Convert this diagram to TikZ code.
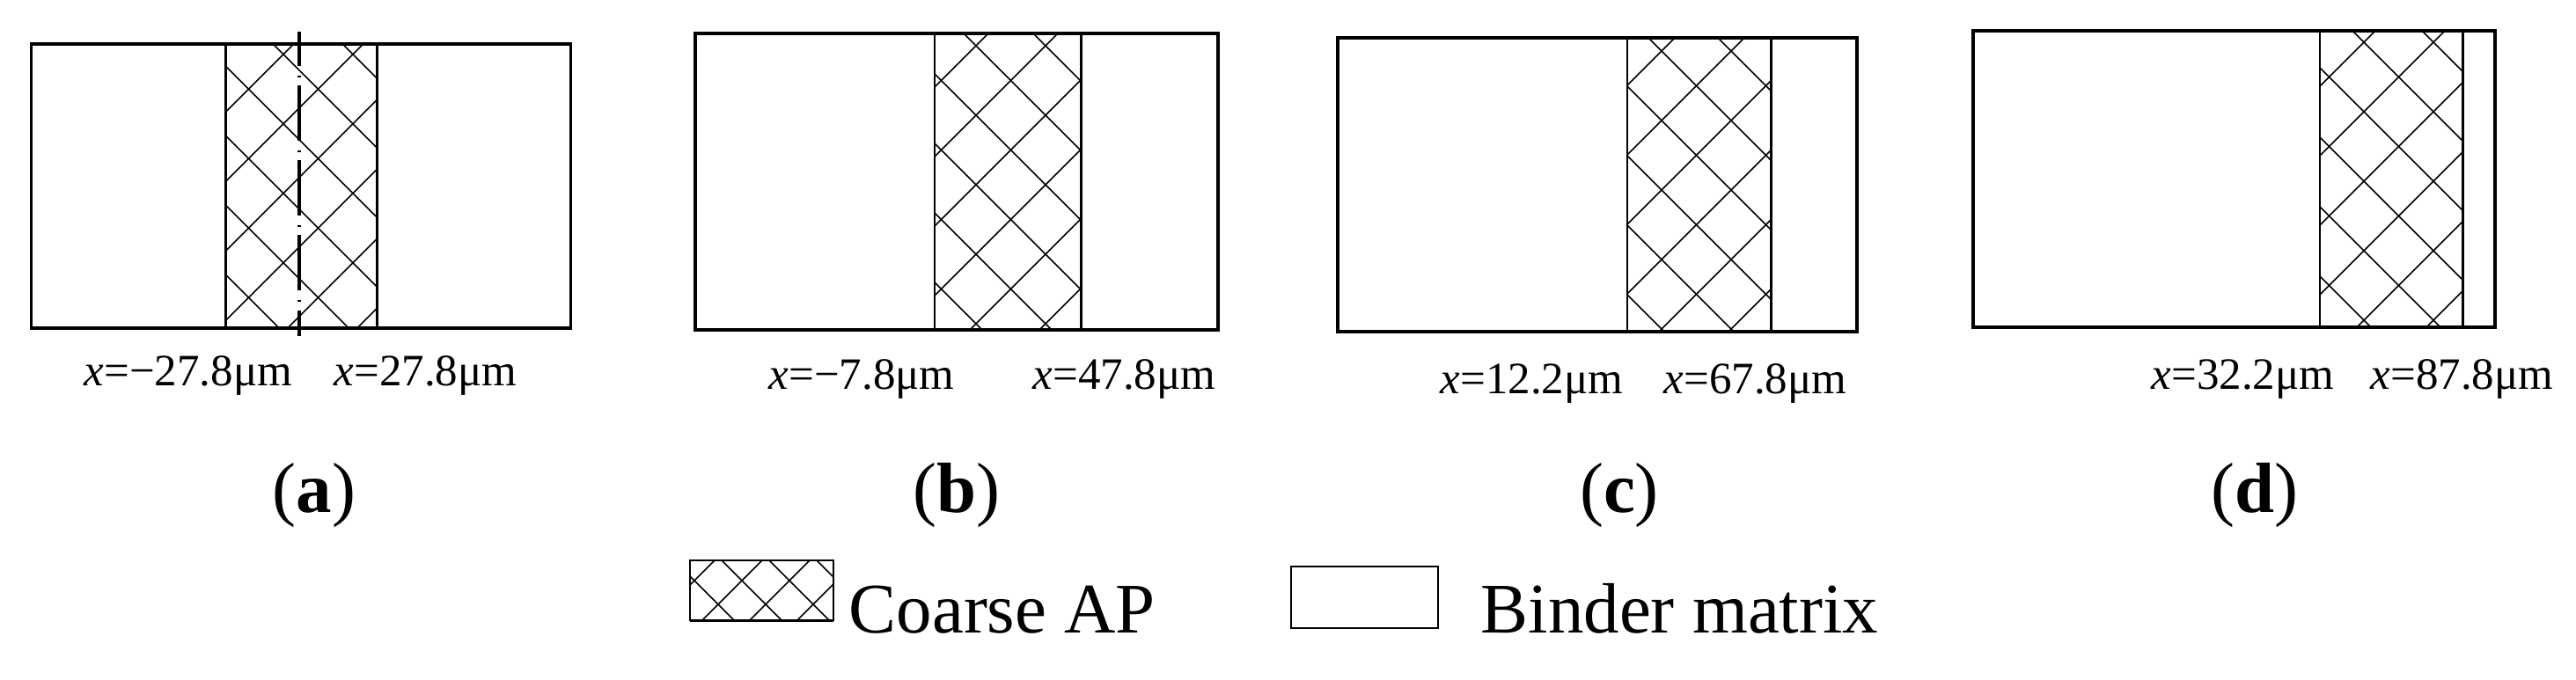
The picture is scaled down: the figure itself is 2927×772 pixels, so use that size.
\documentclass[tikz,border=0pt]{standalone}
\usepackage{fontspec}
\setmainfont{Liberation Serif}
\newcommand{\hatchband}[7]{%
  \begin{scope}
    \clip (#1,#3) rectangle (#2,#4);
    \foreach \k in {-12,...,12} {
      \draw[hatch] ({#5+#7*\k-500},{#6-500}) -- ++(1000,1000);
      \draw[hatch] ({#5+#7*\k+500},{#6-500}) -- ++(-1000,1000);
    }
  \end{scope}}
\begin{document}
\begin{tikzpicture}[x=0.01cm,y=-0.01cm,
    frame/.style={line width=0.94pt},
    band/.style={line width=0.8pt},
    hatch/.style={line width=0.45pt},
    axisline/.style={line width=0.9pt,dash pattern=on 17.9pt off 3.1pt on 0.6pt off 2.6pt,dash phase=6.8pt},
    xlabel/.style={anchor=base west,inner sep=0pt,font=\fontsize{14.5}{17}\selectfont},
    tag/.style={anchor=base,inner sep=0pt,font=\fontsize{23}{27}\selectfont},
    key/.style={anchor=base west,inner sep=0pt,font=\fontsize{23}{27}\selectfont}]
  \useasboundingbox (0,0) rectangle (2927,772);

  % (a)
  \hatchband{256.6}{428.5}{50}{373}{322}{61.7}{79}
  \draw[frame] (35.5,50) rectangle (648.7,373);
  \draw[band] (256.6,50) -- (256.6,373) (428.5,50) -- (428.5,373);
  \draw[axisline] (340,36) -- (340,382);
  \node[xlabel] (a-l) at (95,438) {\textit{x}=−27.8μm};
  \node[xlabel] (a-r) at (379,438) {\textit{x}=27.8μm};
  \node[tag] (ta) at (357,582) {(\textbf{a})};

  % (b)
  \hatchband{1062}{1228.6}{38}{375}{1109}{52}{79}
  \draw[frame] (790,38) rectangle (1384,375);
  \draw[band] (1062,38) -- (1062,375) (1228.6,38) -- (1228.6,375);
  \node[xlabel] (b-l) at (873,442) {\textit{x}=−7.8μm};
  \node[xlabel] (b-r) at (1173,442) {\textit{x}=47.8μm};
  \node[tag] (tb) at (1087,582) {(\textbf{b})};

  % (c)
  \hatchband{1849}{2012.7}{43}{377}{1888}{58}{79}
  \draw[frame] (1520,43) rectangle (2110,377);
  \draw[band] (1849,43) -- (1849,377) (2012.7,43) -- (2012.7,377);
  \node[xlabel] (c-l) at (1636,447) {\textit{x}=12.2μm};
  \node[xlabel] (c-r) at (1890,447) {\textit{x}=67.8μm};
  \node[tag] (tc) at (1840,582) {(\textbf{c})};

  % (d)
  \hatchband{2636}{2798.6}{35}{372}{2686}{48}{79}
  \draw[frame] (2242,35) rectangle (2835,372);
  \draw[band] (2636,35) -- (2636,372) (2798.6,35) -- (2798.6,372);
  \node[xlabel] (d-l) at (2444,442) {\textit{x}=32.2μm};
  \node[xlabel] (d-r) at (2693,442) {\textit{x}=87.8μm};
  \node[tag] (td) at (2562,582) {(\textbf{d})};

  % legend
  \hatchband{784}{947}{637}{705}{843}{660}{54}
  \draw[line width=0.57pt] (784,637) rectangle (947,705);
  \draw[line width=0.85pt] (784,705) -- (947,705);
  \node[key] (ap) at (964,719) {Coarse AP};
  \draw[line width=0.57pt] (1467,644) rectangle (1634,714);
  \node[key] (binder) at (1682,719) {Binder matrix};
\end{tikzpicture}
\end{document}
